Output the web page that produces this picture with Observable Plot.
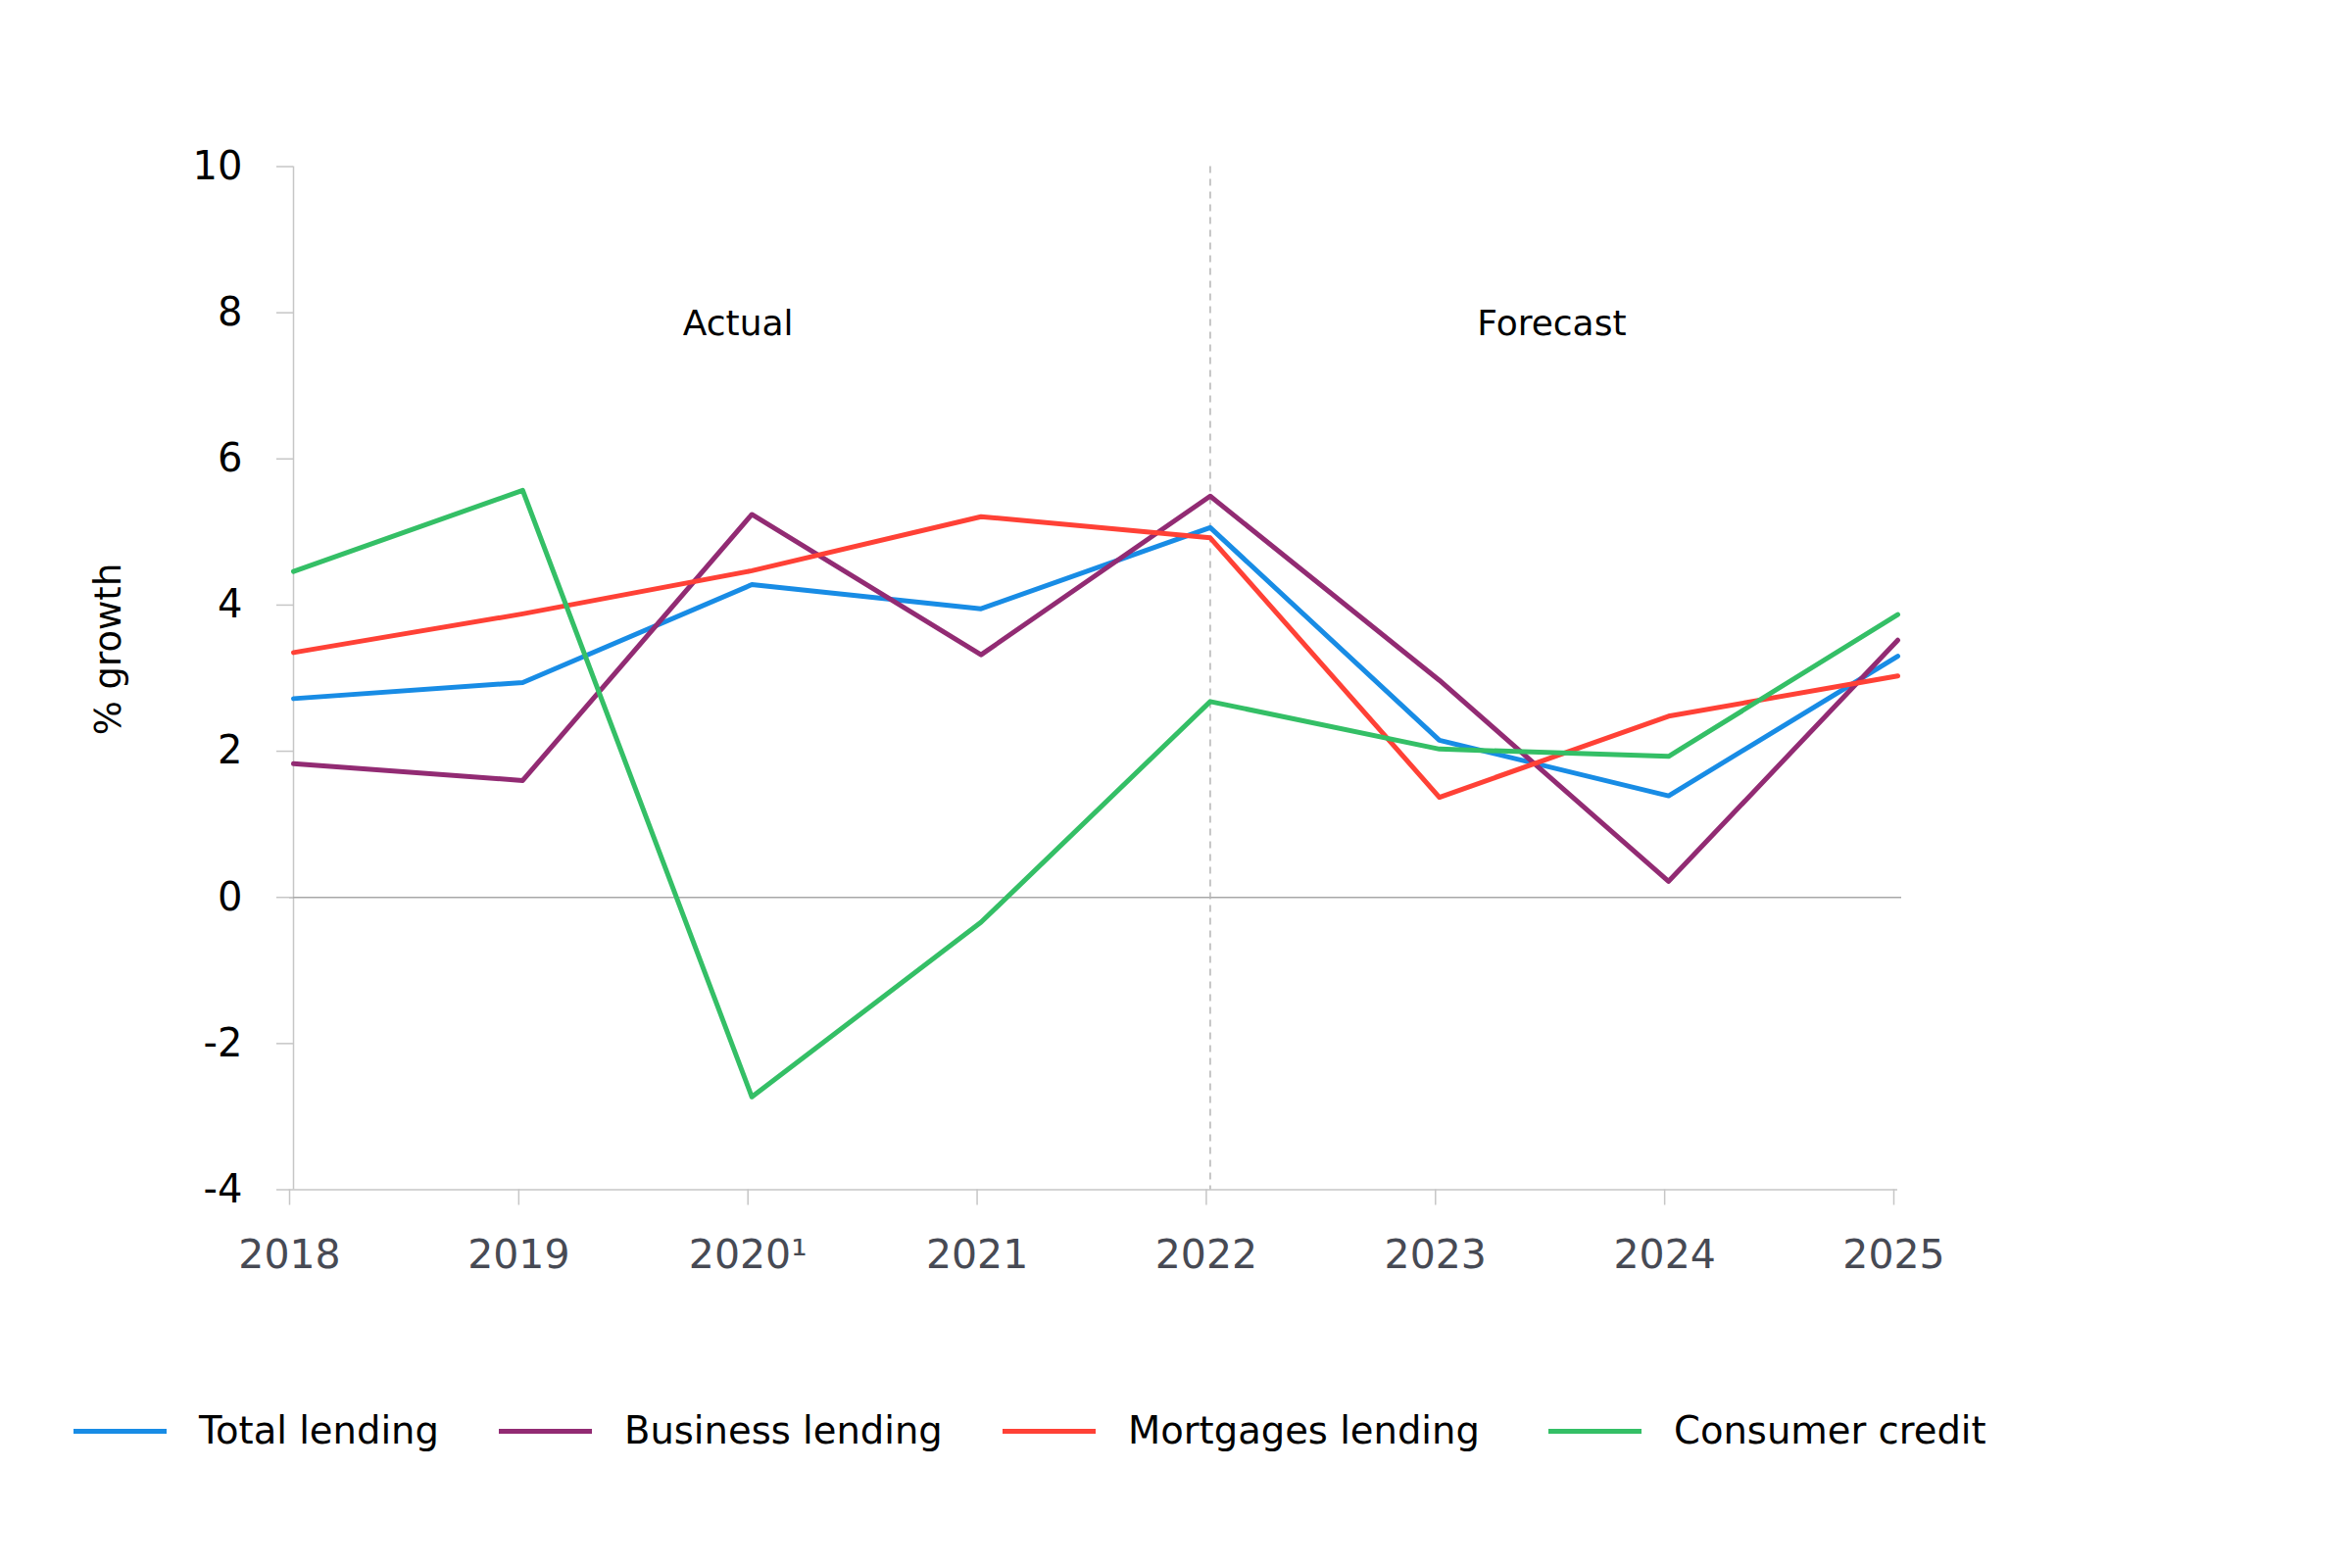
<!DOCTYPE html>
<html>
<head>
<meta charset="utf-8">
<script src="https://cdn.jsdelivr.net/npm/d3@7"></script>
<script src="https://cdn.jsdelivr.net/npm/@observablehq/plot@0.6"></script>
<style>
  html, body { margin: 0; padding: 0; background: #ffffff; }
  #wrap { width: 2400px; }
  #legend {
    display: flex; align-items: center;
    margin-top: 35px; padding-left: 75px;
    height: 50px; line-height: 50px;
    font-family: "DejaVu Sans", sans-serif; font-size: 38.5px; color: #000;
  }
  .item { display: flex; align-items: center; white-space: nowrap; }
  .sw { width: 95px; height: 5px; margin-right: 33px; flex: none; }
</style>
</head>
<body>
<div id="wrap">
  <div id="chart"></div>
  <div id="legend"></div>
</div>
<script>
const years = [2018, 2019, 2020, 2021, 2022, 2023, 2024, 2025];
const yearLabels = ["2018", "2019", "2020¹", "2021", "2022", "2023", "2024", "2025"];
const seriesNames = ["Total lending", "Business lending", "Mortgages lending", "Consumer credit"];
const seriesColors = ["#188CE5", "#922B73", "#FF4136", "#34BF66"];
const totalLending     = [2.72, 2.94, 4.28, 3.95, 5.06, 2.15, 1.39, 3.30];
const businessLending  = [1.83, 1.60, 5.24, 3.32, 5.49, 2.97, 0.22, 3.52];
const mortgagesLending = [3.35, 3.88, 4.47, 5.21, 4.92, 1.37, 2.48, 3.03];
const consumerCredit   = [4.46, 5.57, -2.73, -0.34, 2.68, 2.03, 1.93, 3.87];
const yTicks = [-4, -2, 0, 2, 4, 6, 8, 10];
const forecastStart = 2022;
const regionLabels = ["Actual", "Forecast"];
const regionLabelX = [2019.94, 2023.49];
const regionLabelY = 7.85;
const yTitle = "% growth";
const legendItemWidths = [434, 514, 557, 460];

const seriesValues = [totalLending, businessLending, mortgagesLending, consumerCredit];
const rows = [];
seriesNames.forEach((name, s) => {
  years.forEach((yr, i) => rows.push({series: name, year: yr, value: seriesValues[s][i]}));
});
const regions = regionLabels.map((label, i) => ({label, x: regionLabelX[i], y: regionLabelY}));
const labelOf = new Map(years.map((y, i) => [y, yearLabels[i]]));

const chart = Plot.plot({
  width: 2400,
  height: 1400,
  marginLeft: 299,
  marginRight: 464,
  marginTop: 169.5,
  marginBottom: 186.5,
  style: {fontFamily: "DejaVu Sans", background: "#ffffff", overflow: "visible"},
  x: {domain: [years[0], years[years.length - 1]]},
  y: {domain: [yTicks[0], yTicks[yTicks.length - 1]]},
  color: {domain: seriesNames, range: seriesColors},
  marks: [
    Plot.ruleY([yTicks[0]], {stroke: "#c6c6c6", strokeWidth: 1.5}),
    Plot.ruleX([years[0]], {stroke: "#c6c6c6", strokeWidth: 1.5}),
    Plot.ruleY([0], {stroke: "#a8a8a8", strokeWidth: 1.5, insetLeft: -4, insetRight: -4}),
    Plot.ruleX([forecastStart], {stroke: "#b4b4b4", strokeWidth: 1.5, strokeDasharray: "7,6"}),
    Plot.axisY({
      ticks: yTicks, tickSize: 17, tickPadding: 35, tickFormat: d => String(d),
      fontSize: 40, fill: "#000", stroke: "#c6c6c6", strokeWidth: 1.5, label: null
    }),
    Plot.axisX({
      ticks: years, tickSize: 16, tickPadding: 35, tickFormat: d => labelOf.get(d),
      fontSize: 41, fill: "#474a54", stroke: "#c6c6c6", strokeWidth: 1.5, dx: -4, label: null
    }),
    Plot.text([yTitle], {
      frameAnchor: "left", textAnchor: "middle", rotate: -90, dx: -188, dy: -29.5,
      fontSize: 37, fill: "#000"
    }),
    Plot.lineY(rows, {x: "year", y: "value", z: "series", stroke: "series", strokeWidth: 5}),
    Plot.text(regions, {x: "x", y: "y", text: "label", fontSize: 36, fill: "#000"})
  ]
});
document.getElementById("chart").appendChild(chart);

const legend = document.getElementById("legend");
seriesNames.forEach((name, i) => {
  const item = document.createElement("div");
  item.className = "item";
  item.style.width = legendItemWidths[i] + "px";
  const sw = document.createElement("span");
  sw.className = "sw";
  sw.style.background = seriesColors[i];
  const tx = document.createElement("span");
  tx.textContent = name;
  item.appendChild(sw);
  item.appendChild(tx);
  legend.appendChild(item);
});
</script>
</body>
</html>
